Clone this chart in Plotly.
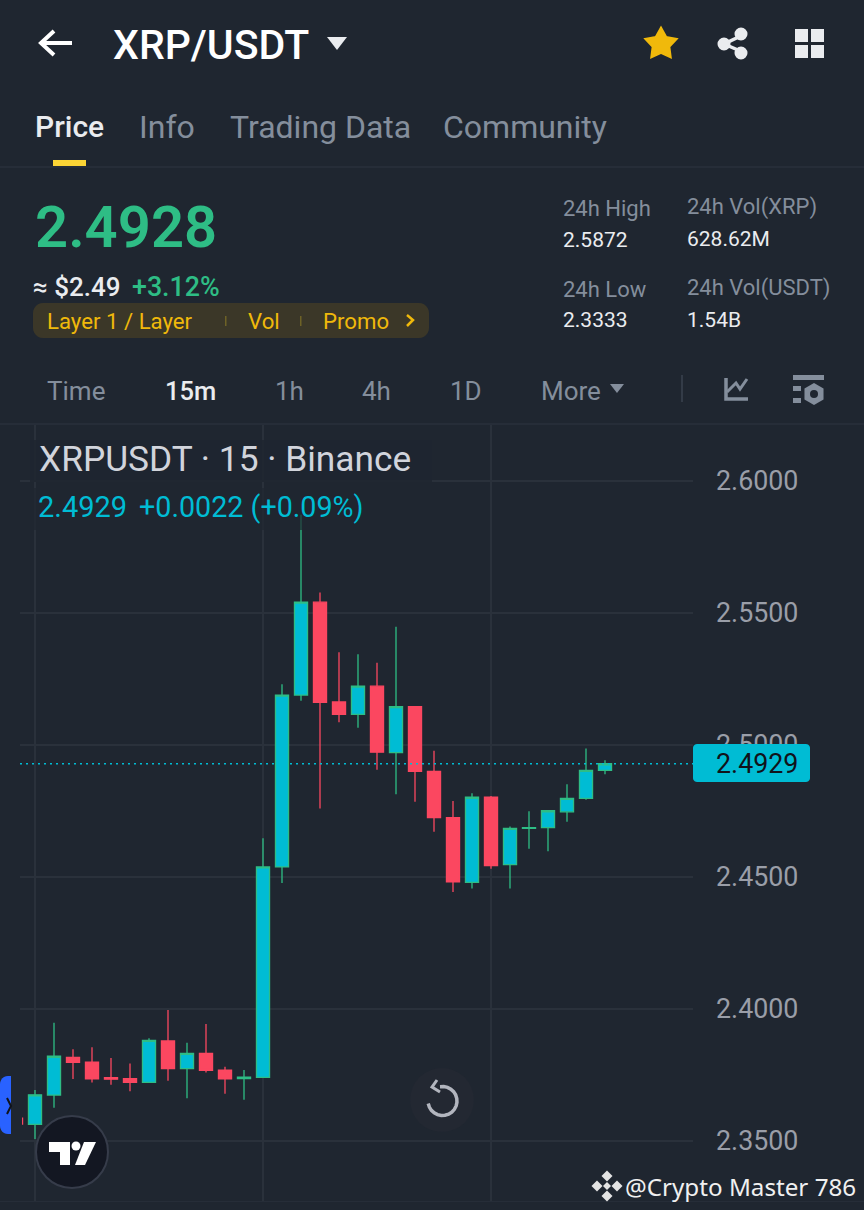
import math
import plotly.graph_objects as go

W, H = 864, 1210

# 15m candles, oldest first
candle_idx = list(range(32))
opens = [2.3587, 2.3563, 2.3674, 2.3817, 2.3799, 2.3740, 2.3736, 2.3722,
         2.3879, 2.3774, 2.3832, 2.3768, 2.3736, 2.3741, 2.4538, 2.5189,
         2.5541, 2.5163, 2.5116, 2.5223, 2.4971, 2.5145, 2.4900, 2.4725,
         2.4480, 2.4802, 2.4547, 2.4684, 2.4687, 2.4747, 2.4798, 2.4904]
highs = [2.3587, 2.3693, 2.3948, 2.3848, 2.3855, 2.3814, 2.3794, 2.3889,
         2.3996, 2.3872, 2.3943, 2.3781, 2.3769, 2.4647, 2.5230, 2.5872,
         2.5578, 2.5351, 2.5344, 2.5312, 2.5448, 2.5145, 2.4978, 2.4788,
         2.4817, 2.4807, 2.4691, 2.4749, 2.4751, 2.4851, 2.4987, 2.4942]
lows = [2.3564, 2.3508, 2.3626, 2.3735, 2.3722, 2.3713, 2.3688, 2.3722,
        2.3728, 2.3662, 2.3759, 2.3679, 2.3656, 2.3741, 2.4477, 2.5168,
        2.4759, 2.5086, 2.5065, 2.4906, 2.4813, 2.4785, 2.4671, 2.4443,
        2.4456, 2.4531, 2.4456, 2.4607, 2.4598, 2.4709, 2.4793, 2.4889]
closes = [2.3564, 2.3675, 2.3821, 2.3798, 2.3735, 2.3734, 2.3722, 2.3881,
          2.3774, 2.3832, 2.3768, 2.3735, 2.3742, 2.4538, 2.5189, 2.5541,
          2.5162, 2.5116, 2.5223, 2.4973, 2.5145, 2.4900, 2.4725, 2.4482,
          2.4802, 2.4543, 2.4684, 2.4687, 2.4751, 2.4798, 2.4904, 2.4929]

y_ticks = [2.35, 2.40, 2.45, 2.50, 2.55, 2.60]
y_tick_labels = ['2.3500', '2.4000', '2.4500', '2.5000', '2.5500', '2.6000']
x_grid = [1, 13, 25]
last_price = 2.4929

BG = '#1f2630'
GRID = '#2a313b'
GREY = '#848e9c'
LIGHT = '#eaecef'
GOLD = '#f0b90b'
GREEN = '#2ebd85'
CYAN = '#00bcd4'
RED = '#fb4760'


def fx(x):
    return x / W


def fy(y):
    return 1 - y / H


def poly(points, close=True):
    d = 'M' + ' L'.join(f'{fx(x):.5f},{fy(y):.5f}' for x, y in points)
    return d + (' Z' if close else '')


shapes = []
annotations = []


def add_path(points, fill=None, line=None, width=0, close=True, opacity=1):
    shapes.append(dict(type='path', xref='paper', yref='paper', path=poly(points, close),
                       fillcolor=fill if fill else 'rgba(0,0,0,0)', opacity=opacity, layer='above',
                       line=dict(color=line if line else 'rgba(0,0,0,0)', width=width)))


def add_rect(x0, y0, x1, y1, fill, opacity=1):
    shapes.append(dict(type='rect', xref='paper', yref='paper', x0=fx(x0), x1=fx(x1), y0=fy(y0), y1=fy(y1),
                       fillcolor=fill, opacity=opacity, layer='above', line=dict(width=0)))


def add_circle(cx, cy, r, fill='rgba(0,0,0,0)', line='rgba(0,0,0,0)', width=0):
    shapes.append(dict(type='circle', xref='paper', yref='paper', x0=fx(cx - r), x1=fx(cx + r),
                       y0=fy(cy - r), y1=fy(cy + r), fillcolor=fill, layer='above',
                       line=dict(color=line, width=width)))


def round_rect(x0, y0, x1, y1, r):
    pts = []
    for cx, cy, a0 in [(x1 - r, y0 + r, -90), (x1 - r, y1 - r, 0), (x0 + r, y1 - r, 90), (x0 + r, y0 + r, 180)]:
        for k in range(7):
            a = math.radians(a0 + k * 15)
            pts.append((cx + r * math.cos(a), cy + r * math.sin(a)))
    return pts


def add_text(x, y, text, size, color, anchor='left', weight=400, family='Roboto'):
    # annotations sit about 1.5px right of the asked position
    annotations.append(dict(xref='paper', yref='paper', x=fx(x - 1.5), y=fy(y), text=text, showarrow=False,
                            xanchor=anchor, yanchor='middle', borderpad=0,
                            font=dict(family=family, size=size, color=color, weight=weight)))


fig = go.Figure(go.Candlestick(
    x=candle_idx, open=opens, high=highs, low=lows, close=closes,
    whiskerwidth=0,
    increasing=dict(line=dict(color=GREEN, width=1.3), fillcolor=CYAN),
    decreasing=dict(line=dict(color=RED, width=1.3), fillcolor=RED),
    hoverinfo='skip',
))

# legend background dims whatever runs under it
add_rect(30, 440, 432, 482, BG, 0.85)
add_rect(30, 488, 366, 530, BG, 0.7)

# header
add_path([(72, 43), (41, 43)], line='#ffffff', width=4, close=False)
add_path([(54, 31), (41, 43), (54, 55)], line='#ffffff', width=4, close=False)
add_text(113, 45, 'XRP/USDT', 41, '#ffffff', weight=500)
add_path([(327, 37), (347, 37), (337, 50)], fill=LIGHT)
star = []
for k in range(10):
    r = 16 if k % 2 == 0 else 8.5
    a = math.radians(-90 + 36 * k)
    star.append((661 + r * math.cos(a), 44 + r * math.sin(a)))
add_path(star, fill=GOLD, line=GOLD, width=2.5)
add_path([(745, 34), (724, 44), (745, 53)], line=LIGHT, width=3.5, close=False)
add_circle(741, 34, 6.5, LIGHT)
add_circle(724, 44, 6.5, LIGHT)
add_circle(741, 53, 6.5, LIGHT)
for x0, y0 in [(795, 29), (811, 29), (795, 45), (811, 45)]:
    add_rect(x0, y0, x0 + 13, y0 + 13, LIGHT)

add_text(35, 127, 'Price', 30, LIGHT, weight=500)
add_text(139, 127, 'Info', 32, GREY)
add_text(230, 127, 'Trading Data', 32, GREY)
add_text(443, 127, 'Community', 32, GREY)
add_rect(53, 160, 86, 167, '#fcd535')
add_rect(0, 166, W, 168, '#262d38')

add_text(35, 227, '2.4928', 58, GREEN, weight=600)
add_text(33, 287, '≈ $2.49', 26, LIGHT, weight=500)
add_text(132, 287, '+3.12%', 26.8, GREEN, weight=500)
add_path(round_rect(33, 303, 429, 338, 10), fill='#3b3728')
add_text(47, 321, 'Layer 1 / Layer', 22.2, GOLD)
add_rect(225, 316, 226.5, 326, '#6e6226')
add_text(248, 321, 'Vol', 22.2, GOLD)
add_rect(300, 316, 301.5, 326, '#6e6226')
add_text(323, 321, 'Promo', 22.2, GOLD)
add_path([(407, 315), (413, 320), (407, 326)], line=GOLD, width=2.5, close=False)

add_text(563, 208, '24h High', 22, GREY)
add_text(563, 240, '2.5872', 21, LIGHT)
add_text(687, 207, '24h Vol(XRP)', 22, GREY)
add_text(687, 239, '628.62M', 21, LIGHT)
add_text(563, 289, '24h Low', 22, GREY)
add_text(563, 320, '2.3333', 21, LIGHT)
add_text(687, 288, '24h Vol(USDT)', 22, GREY)
add_text(687, 320, '1.54B', 21, LIGHT)

# interval row
add_text(47, 391, 'Time', 26, GREY)
add_text(165, 391, '15m', 25.5, LIGHT, weight=500)
add_text(275, 391, '1h', 26, GREY)
add_text(362, 391, '4h', 26, GREY)
add_text(450, 391, '1D', 26, GREY)
add_text(541, 391, 'More', 26, GREY)
add_path([(610, 384), (624, 384), (617, 393)], fill=GREY)
add_rect(681, 375, 683, 402, '#333b47')
add_path([(726, 378), (726, 399), (748, 399)], line=GREY, width=3.5, close=False)
add_path([(727, 392), (736, 383), (740, 389), (747, 379)], line=GREY, width=3, close=False)
add_rect(793, 375, 824, 380, GREY)
add_rect(793, 386, 801, 391, GREY)
add_rect(793, 398, 801, 403, GREY)
hexagon = [(814 + 11 * math.cos(math.radians(a)), 394 + 11 * math.sin(math.radians(a)))
           for a in range(30, 390, 60)]
add_path(hexagon, fill=GREY)
add_circle(814, 394, 4, BG)

# chart frame
add_rect(0, 423, W, 425, '#262d38')
add_rect(0, 1201, W, 1202, '#262d38')

# chart legend
add_text(39, 459, 'XRPUSDT · 15 · Binance', 35.3, '#d1d4dc')
add_text(38, 507, '2.4929', 29, CYAN)
add_text(139, 507, '+0.0022 (+0.09%)', 28.7, CYAN)

# last price line and tag
shapes.append(dict(type='line', xref='paper', yref='y', x0=fx(20), x1=fx(693), y0=last_price, y1=last_price,
                   line=dict(color=CYAN, width=1.5, dash='2px,4px'), layer='above'))
add_path(round_rect(693, 744, 810, 782, 4), fill=CYAN)
add_text(716, 764, f'{last_price:.4f}', 26.8, '#10131a')

# overlay widgets
add_path(round_rect(0, 1076, 22, 1134, 8), fill='#2962ff')
add_rect(11, 1076, 22, 1134, BG)
add_path([(7, 1098), (11, 1106), (7, 1114)], line='#10131a', width=2, close=False)
add_circle(72, 1152, 36, '#131722', '#363c4a', 2)
add_path([(49, 1142), (70, 1142), (70, 1165), (60, 1165), (60, 1152), (49, 1152)], fill='#ffffff')
add_circle(76, 1146, 4.5, '#ffffff')
add_path([(84, 1142), (96, 1142), (85, 1165), (75, 1165)], fill='#ffffff')
add_circle(442, 1100, 32, '#232832')
arc = []
for deg in range(-100, 175, 15):
    a = math.radians(deg)
    arc.append((442.5 + 14.5 * math.cos(a), 1101 + 14.5 * math.sin(a)))
add_path(arc, line='#b2b5be', width=3.5, close=False)
add_path([(437, 1080), (432, 1087), (440, 1092)], line='#b2b5be', width=3, close=False)

# watermark
for cx, cy in [(607, 1176), (607, 1196), (597, 1186), (617, 1186)]:
    d = 5.5
    add_path([(cx, cy - d), (cx + d, cy), (cx, cy + d), (cx - d, cy)], fill='#e4e4e4')
add_path([(607, 1182), (611, 1186), (607, 1190), (603, 1186)], fill='#e4e4e4')
add_text(625, 1186, '@Crypto Master 786', 24.2, '#f0f0f0', family='Noto Sans')

x_left = (20 - 16) / 19
x_right = (693 - 16) / 19
fig.update_layout(
    width=W, height=H,
    margin=dict(l=0, r=0, t=0, b=0),
    paper_bgcolor=BG, plot_bgcolor=BG,
    showlegend=False,
    boxmode='group', boxgap=0.17, boxgroupgap=0.17,
    shapes=shapes,
    annotations=annotations,
    xaxis=dict(domain=[fx(20), fx(693)], range=[x_left, x_right], type='linear',
               rangeslider=dict(visible=False), tickvals=x_grid, showticklabels=False,
               gridcolor=GRID, gridwidth=1.5, zeroline=False, showline=False),
    yaxis=dict(domain=[fy(1201), fy(424)], range=[2.6 - 720 / 2640, 2.6 + 57 / 2640],
               side='right', tickvals=y_ticks, ticktext=y_tick_labels, ticks='',
               ticklabelstandoff=22, gridcolor=GRID, gridwidth=1.5, zeroline=False, showline=False,
               tickfont=dict(family='Roboto', size=26.8, color='#9a9ea8')),
)

fig.write_html('out.html', config={'displayModeBar': False},
               post_script="document.body.style.margin='0';document.body.style.background='" + BG + "';")
